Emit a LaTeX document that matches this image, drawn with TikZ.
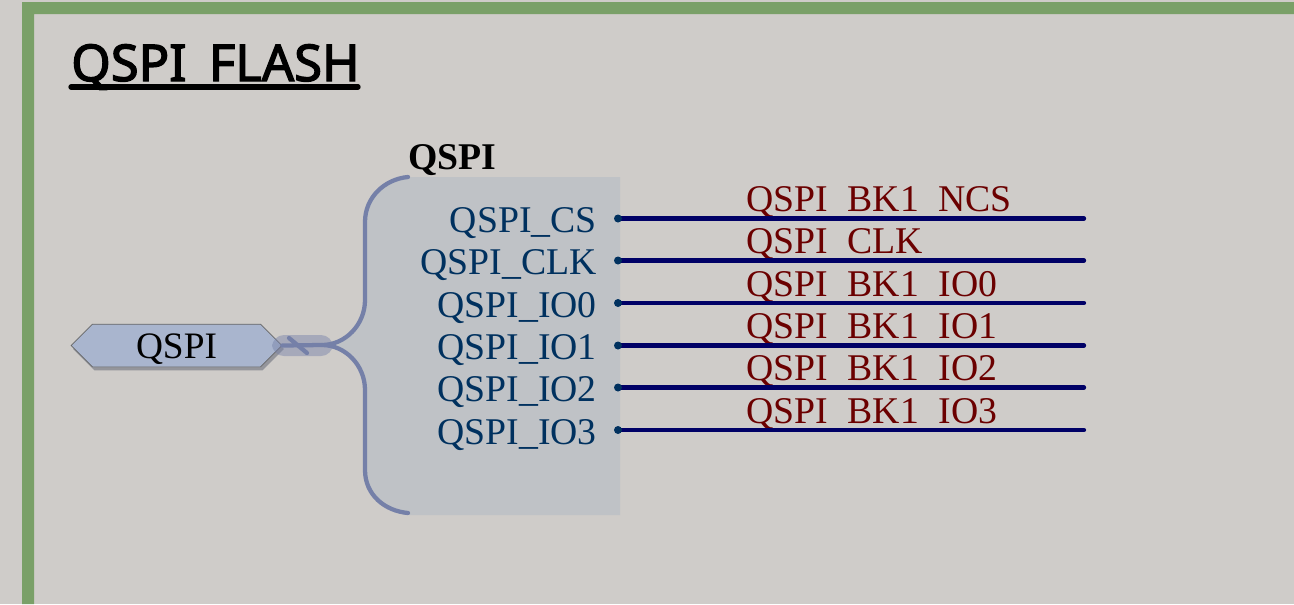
\documentclass[tikz,border=0pt]{standalone}
\usepackage{fontspec}
\setmainfont{Liberation Serif}
\newfontfamily\titlefont[FakeBold=2.6]{Noto Sans}
\usetikzlibrary{shapes.symbols}
\definecolor{sheetbg}{HTML}{CFCCC9}
\definecolor{framegreen}{HTML}{7AA068}
\definecolor{blockfill}{HTML}{BFC2C6}
\definecolor{busblue}{HTML}{7580A8}
\definecolor{tabfill}{HTML}{A9B5CE}
\definecolor{tabshade}{HTML}{94959B}
\definecolor{pinblue}{HTML}{00315F}
\definecolor{wireblue}{HTML}{000066}
\definecolor{netred}{HTML}{6B0000}
\newcommand{\netgap}{\hspace{0.52em}}
\tikzset{
  pinlabel/.style={anchor=base east,inner sep=0pt,text=pinblue,font=\fontsize{28.3}{28}\selectfont},
  netlabel/.style={anchor=base west,inner sep=0pt,text=netred,font=\fontsize{28.3}{28}\selectfont},
  wire/.style={wireblue,line width=3.2pt,line cap=round},
  busline/.style={busblue,line width=3.2pt,line cap=round},
  tabshape/.style={signal,signal to=west and east,line width=0.5pt,minimum width=158pt,minimum height=32pt,inner sep=0pt,font=\fontsize{28}{28}\selectfont}
}
\begin{document}
\begin{tikzpicture}[x=0.75pt,y=-0.75pt]
\useasboundingbox (0,0) rectangle (1294,604);
\fill[sheetbg] (0,0) rectangle (1294,604);
% Sheet frame
\fill[framegreen] (22,2) -- (1294,2) -- (1294,14) -- (34,14) -- (34,604) -- (22,604) -- cycle;
\node[anchor=base west,inner sep=0pt,font=\titlefont\fontsize{38}{38}\selectfont] (title) at (71,81) {QSPI\_FLASH};
\coordinate (ruleL) at (71,87);
\coordinate (ruleR) at (358,87);
\draw[black,line width=4pt,line cap=round] (ruleL) -- (ruleR);
% Port block
\coordinate (busjoin) at (322,345);
\fill[blockfill] (410,177) -- (620,177) -- (620,515) -- (410,515) .. controls (385,513) and (365,495) .. (365,470)
  -- (365,390) .. controls (365,365) and (345,345) .. (busjoin) .. controls (345,345) and (365,325) .. (365,300)
  -- (365,222) .. controls (365,197) and (385,179) .. (410,177) -- cycle;
\draw[busline] (408,177) .. controls (385,179) and (365,197) .. (365,222) -- (365,300)
  .. controls (365,325) and (345,345) .. (busjoin) .. controls (345,345) and (365,365) .. (365,390)
  -- (365,470) .. controls (365,495) and (385,511) .. (408,513);
\node[anchor=base west,inner sep=0pt,font=\bfseries\fontsize{28.3}{28}\selectfont] (blockname) at (408,169) {QSPI};
% Harness tab
\node[tabshape,fill=tabshade] (tabshadow) at (178.5,349) {};
\node[tabshape,fill=tabfill,draw=gray!80!black] (tab) at (176.5,345.5) {};
\node[anchor=base,inner sep=0pt,font=\fontsize{28}{28}\selectfont] (tabname) at (176.5,358) {QSPI};
\fill[busblue,opacity=0.45,rounded corners=9pt] (272,335) rectangle (333,356);
\draw[busline] (tab.east) -- (busjoin);
\coordinate (slashA) at (289,338);
\coordinate (slashB) at (307,353);
\draw[busline] (slashA) -- (slashB);
% Pins and nets
\foreach \i/\pinname/\netname/\ypos in {0/QSPI\_CS/QSPI\netgap BK1\netgap NCS/218.5,1/QSPI\_CLK/QSPI\netgap CLK/260.5,2/QSPI\_IO0/QSPI\netgap BK1\netgap IO0/303,3/QSPI\_IO1/QSPI\netgap BK1\netgap IO1/345.5,4/QSPI\_IO2/QSPI\netgap BK1\netgap IO2/387.5,5/QSPI\_IO3/QSPI\netgap BK1\netgap IO3/430}{
  \node[netlabel] (net\i) at (746,\ypos-7) {\netname};
  \node[pinlabel] (pin\i) at (597,\ypos+14) {\pinname};
  \coordinate (start\i) at (618,\ypos);
  \coordinate (stop\i) at (1084,\ypos);
  \draw[wire] (start\i) -- (stop\i);
  \fill[pinblue] (start\i) circle (4);
}
\end{tikzpicture}
\end{document}
